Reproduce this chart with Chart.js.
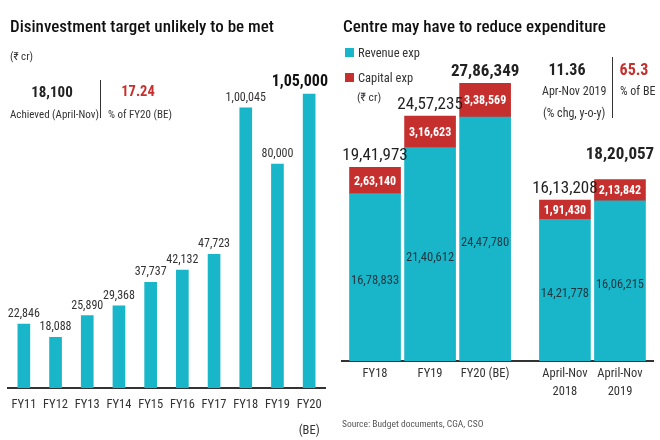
<!DOCTYPE html>
<html>
<head>
<meta charset="utf-8">
<script src="https://cdn.jsdelivr.net/npm/chart.js@4.4.1/dist/chart.umd.min.js"></script>
<style>
  body { margin: 0; background: #fff; }
  #wrap { position: relative; width: 660px; height: 440px; overflow: hidden;
          font-family: "Roboto Condensed", "Liberation Sans Narrow", sans-serif; color: #222; }
  canvas { position: absolute; top: 0; }
  .t { position: absolute; white-space: nowrap; line-height: 1; }
  .c { text-align: center; }
  .b { font-weight: bold; }
  .red { color: #c5302e; }
  .rule { position: absolute; width: 1px; background: #333; }
  .sq { position: absolute; width: 9px; height: 9px; }
</style>
</head>
<body>
<div id="wrap">
  <canvas id="disinvest" width="330" height="440" style="left:0"></canvas>
  <canvas id="expenditure" width="330" height="440" style="left:330px"></canvas>

  <!-- left panel text -->
  <div class="t" style="left:10px;top:18px;font-size:17px;font-weight:500;color:#111">Disinvestment target unlikely to be met</div>
  <div class="t" style="left:10px;top:51px;font-size:11px;color:#333">(₹ cr)</div>
  <div class="t c b" style="left:12px;top:85px;width:80px;font-size:15px">18,100</div>
  <div class="t" style="left:10px;top:109px;font-size:11px;color:#333">Achieved (April-Nov)</div>
  <div class="rule" style="left:100px;top:80px;height:38px"></div>
  <div class="t c b red" style="left:108px;top:85px;width:60px;font-size:14.5px">17.24</div>
  <div class="t" style="left:108px;top:109px;font-size:11px;color:#333">% of FY20 (BE)</div>

  <!-- right panel text -->
  <div class="t" style="left:343px;top:18px;font-size:17px;font-weight:500;color:#111">Centre may have to reduce expenditure</div>
  <div class="sq" style="left:345px;top:48px;background:#19b5c8"></div>
  <div class="t" style="left:358px;top:47px;font-size:12.5px;color:#333">Revenue exp</div>
  <div class="sq" style="left:345px;top:73px;background:#c5302e"></div>
  <div class="t" style="left:358px;top:72px;font-size:12.5px;color:#333">Capital exp</div>
  <div class="t" style="left:357px;top:92px;font-size:11.5px;color:#333">(₹ cr)</div>
  <div class="t c b" style="left:537px;top:62px;width:60px;font-size:16px">11.36</div>
  <div class="t" style="left:542px;top:85px;font-size:12px;color:#333">Apr-Nov 2019</div>
  <div class="t" style="left:543px;top:107px;font-size:12px;color:#333">(% chg, y-o-y)</div>
  <div class="rule" style="left:612px;top:57px;height:61px"></div>
  <div class="t c b red" style="left:614px;top:62px;width:40px;font-size:16px">65.3</div>
  <div class="t" style="left:620px;top:85px;font-size:12px;color:#333">% of BE</div>
  <div class="t" style="left:342px;top:419px;font-size:9.5px;color:#555">Source: Budget documents, CGA, CSO</div>
</div>

<script>
// Disinvestment (₹ cr)
const fyYears = ['FY11', 'FY12', 'FY13', 'FY14', 'FY15', 'FY16', 'FY17', 'FY18', 'FY19', ['FY20', '(BE)']];
const disinvestment = [22846, 18088, 25890, 29368, 37737, 42132, 47723, 100045, 80000, 105000];

// Expenditure (₹ cr)
const periods = ['FY18', 'FY19', 'FY20 (BE)', ['April-Nov', '2018'], ['April-Nov', '2019']];
const periodGroup = [0, 0, 0, 1, 1];
const revenueExp = [1678833, 2140612, 2447780, 1421778, 1606215];
const capitalExp = [263140, 316623, 338569, 191430, 213842];

const TEAL = '#19b5c8';
const RED = '#c5302e';
const FONT = '"Roboto Condensed", "Liberation Sans Narrow", sans-serif';
const GROUP_GAP = 0.45; // extra space between full years and April-Nov bars
const totalRaise = [0, 0, 0, 0, 14];

// indian digit grouping: 1,05,000
function inr(n) {
  const s = String(Math.round(n));
  if (s.length <= 3) return s;
  const rest = s.slice(0, -3).replace(/\B(?=(\d{2})+(?!\d))/g, ',');
  return rest + ',' + s.slice(-3);
}

const noAxisPadding = s => { s.paddingLeft = 0; s.paddingRight = 0; };

const disinvestLabels = {
  id: 'disinvestLabels',
  afterDatasetsDraw(chart) {
    const ctx = chart.ctx;
    const bars = chart.getDatasetMeta(0).data;
    ctx.save();
    ctx.textAlign = 'center';
    ctx.textBaseline = 'alphabetic';
    bars.forEach((bar, i) => {
      const last = i === bars.length - 1;
      ctx.fillStyle = last ? '#111' : '#333';
      ctx.font = (last ? 'bold 16px ' : '12px ') + FONT;
      let x = bar.x;
      if (last) x = Math.min(x, chart.width - ctx.measureText(inr(disinvestment[i])).width / 2 - 2);
      ctx.fillText(inr(disinvestment[i]), x, bar.y - (last ? 8 : 7));
    });
    ctx.restore();
  }
};

const expenditureLabels = {
  id: 'expenditureLabels',
  afterDatasetsDraw(chart) {
    const ctx = chart.ctx;
    const rev = chart.getDatasetMeta(0).data;
    const cap = chart.getDatasetMeta(1).data;
    ctx.save();
    ctx.textAlign = 'center';
    rev.forEach((bar, i) => {
      ctx.textBaseline = 'middle';
      ctx.fillStyle = '#1f3540';
      ctx.font = '12.5px ' + FONT;
      ctx.fillText(inr(revenueExp[i]), bar.x, (bar.y + bar.base) / 2 + 4);

      const top = cap[i];
      ctx.fillStyle = '#fff';
      ctx.font = 'bold 12px ' + FONT;
      ctx.fillText(inr(capitalExp[i]), top.x, (top.y + top.base) / 2 + 1);

      const lastInGroup = i === periodGroup.length - 1 || periodGroup[i + 1] !== periodGroup[i];
      ctx.textBaseline = 'alphabetic';
      ctx.fillStyle = '#222';
      ctx.font = (lastInGroup ? 'bold ' : '') + '17px ' + FONT;
      ctx.fillText(inr(revenueExp[i] + capitalExp[i]), top.x, top.y - 7 - totalRaise[i]);
    });
    ctx.restore();
  }
};

new Chart(document.getElementById('disinvest'), {
  type: 'bar',
  data: {
    labels: fyYears,
    datasets: [{ data: disinvestment, backgroundColor: TEAL, barThickness: 12 }]
  },
  options: {
    responsive: false,
    animation: false,
    layout: { padding: { left: 8, right: 5, top: 52, bottom: 0 } },
    plugins: { legend: { display: false }, tooltip: { enabled: false } },
    scales: {
      x: {
        grid: { display: false, drawTicks: false },
        border: { color: '#333', width: 2 },
        ticks: { color: '#333', font: { family: FONT, size: 12.5, lineHeight: 2.15 }, padding: 3, maxRotation: 0, autoSkip: false },
        afterFit: s => { s.height = 52; noAxisPadding(s); }
      },
      y: { display: false, min: 0, max: 120000 }
    }
  },
  plugins: [disinvestLabels]
});

const xPos = periods.map((p, i) => i + periodGroup[i] * GROUP_GAP);

new Chart(document.getElementById('expenditure'), {
  type: 'bar',
  data: {
    datasets: [
      { label: 'Revenue exp', data: revenueExp.map((v, i) => ({ x: xPos[i], y: v })), backgroundColor: TEAL, barThickness: 51 },
      { label: 'Capital exp', data: capitalExp.map((v, i) => ({ x: xPos[i], y: v })), backgroundColor: RED, barThickness: 51 }
    ]
  },
  options: {
    responsive: false,
    animation: false,
    layout: { padding: { left: 12, right: 7, top: 42, bottom: 0 } },
    plugins: { legend: { display: false }, tooltip: { enabled: false } },
    scales: {
      x: {
        type: 'linear',
        min: -0.6,
        max: 5.05,
        offset: false,
        stacked: true,
        grid: { display: false, drawTicks: false, offset: false },
        border: { color: '#333', width: 2 },
        afterBuildTicks: s => { s.ticks = xPos.map(v => ({ value: v })); },
        ticks: {
          color: '#333', font: { family: FONT, size: 12.5, lineHeight: 1.5 }, padding: 3,
          maxRotation: 0, autoSkip: false,
          callback: (v, i) => periods[i]
        },
        afterFit: s => { s.height = 79; noAxisPadding(s); }
      },
      y: { display: false, stacked: true, min: 0, max: 3200000 }
    }
  },
  plugins: [expenditureLabels]
});
</script>
</body>
</html>
